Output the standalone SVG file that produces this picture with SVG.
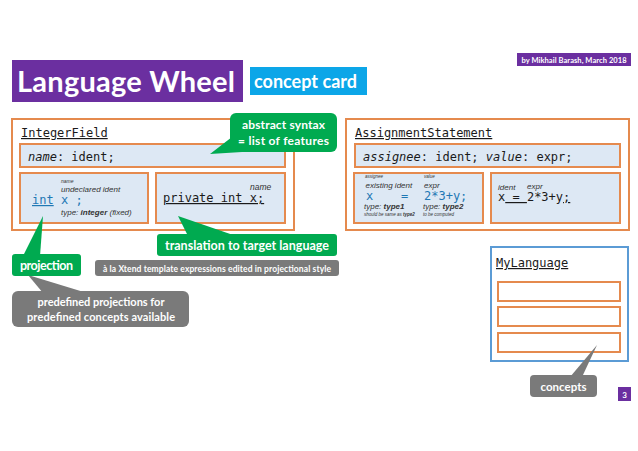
<svg xmlns="http://www.w3.org/2000/svg" width="638" height="451" viewBox="0 0 638 451">
<style>
.o{fill:#fff;stroke:#e58a4e;stroke-width:2}
.c{fill:#dde8f4;stroke:#e58a4e;stroke-width:2}
.b{font-family:"Lato","Liberation Sans",sans-serif;font-weight:700;fill:#fff;text-anchor:middle}
.g{fill:#00aa50}
.y{fill:#7a7a7a}
.m{font-family:"DejaVu Sans Mono",monospace;fill:#1a1a1a;font-size:12px}
.a{font-family:"Liberation Sans",sans-serif;font-style:italic;fill:#333}
.u{text-decoration:underline}
.l{fill:#1f78b4}
</style>
<rect width="638" height="451" fill="#fff"/>
<g id="title"><rect x="12" y="60" width="231" height="42" fill="#6b2fa0"/><text x="126" y="92" class="b" font-size="29" textLength="218" lengthAdjust="spacing">Language Wheel</text></g>
<g id="concept-card"><rect x="250" y="67" width="117" height="28" fill="#0ca6e8"/><text x="305.500" y="87.500" class="b" font-size="18" textLength="103" lengthAdjust="spacing">concept card</text></g>
<g id="author"><rect x="517" y="53" width="114" height="13" fill="#6b2fa0"/><text x="574" y="62.700" class="b" font-size="7.500" textLength="105" lengthAdjust="spacing">by Mikhail Barash, March 2018</text></g>

<g id="integer-field">
<rect class="o" x="12" y="119" width="282" height="111"/>
<text class="m u" x="21" y="137">IntegerField</text>
<rect class="c" x="20" y="144" width="265" height="23"/>
<text class="m" x="28" y="160.500"><tspan font-style="italic">name</tspan>: ident;</text>
<rect class="c" x="20" y="173" width="128" height="50"/>
<text class="a" x="61" y="183" font-size="5">name</text>
<text class="a" x="61" y="192" font-size="8">undeclared ident</text>
<text class="m l u" x="32" y="204">int</text>
<text class="m l" x="61" y="204">x ;</text>
<text class="a" x="61" y="215" font-size="8">type: <tspan font-weight="700">integer</tspan> (fixed)</text>
<rect class="c" x="156" y="173" width="129" height="50"/>
<text class="a" x="250" y="190" font-size="8.500">name</text>
<text class="m u" x="163" y="202">private int x;</text>
</g>

<g id="assignment-statement">
<rect class="o" x="346" y="119" width="283" height="111"/>
<text class="m u" x="355" y="137">AssignmentStatement</text>
<rect class="c" x="355" y="144" width="265" height="23"/>
<text class="m" x="363" y="160.500"><tspan font-style="italic">assignee</tspan>: ident; <tspan font-style="italic">value</tspan>: expr;</text>
<rect class="c" x="354" y="173" width="129" height="50"/>
<text class="a" x="365" y="178" font-size="4.500">assignee</text>
<text class="a" x="424" y="178" font-size="4.500">value</text>
<text class="a" x="365.500" y="188" font-size="8">existing ident</text>
<text class="a" x="424" y="188" font-size="8">expr</text>
<text class="m l" x="366" y="200">x</text>
<text class="m l" x="401" y="200">=</text>
<text class="m l" x="424" y="200">2*3+y;</text>
<text class="a" x="364" y="209" font-size="8">type: <tspan font-weight="700">type1</tspan></text>
<text class="a" x="423" y="209" font-size="8">type: <tspan font-weight="700">type2</tspan></text>
<text class="a" x="364" y="216" font-size="4.500">should be same as <tspan font-weight="700">type2</tspan></text>
<text class="a" x="423" y="216" font-size="4.500">to be computed</text>
<rect class="c" x="491" y="173" width="129" height="50"/>
<text class="a" x="498" y="190" font-size="8">ident</text>
<text class="a" x="527" y="189" font-size="8">expr</text>
<text class="m" x="498" y="201">x<tspan class="u"> = </tspan>2*3+y<tspan class="u">;</tspan></text>
</g>

<g id="my-language">
<rect x="491" y="247" width="137" height="114" fill="#fff" stroke="#5b9bd5" stroke-width="2"/>
<text class="m u" x="496" y="267">MyLanguage</text>
<rect class="o" x="498" y="282" width="122" height="19"/>
<rect class="o" x="498" y="307" width="122" height="19"/>
<rect class="o" x="498" y="333" width="122" height="19"/>
</g>

<g id="connectors">
<polygon class="g" points="210,154 232,137 242,152"/>
<polygon class="g" points="178,216 188,236 236,236"/>
<polygon class="g" points="43,216 23,256 40,256"/>
<polygon class="y" points="28,275 43,293 87,293"/>
<polygon class="y" points="597,345 570,377 582,377"/>
</g>

<g id="abstract-syntax"><rect class="g" x="230" y="113" width="107" height="39" rx="6"/><text class="b" x="283.500" y="129" font-size="12" textLength="83" lengthAdjust="spacing">abstract syntax</text><text class="b" x="283.500" y="145" font-size="12" textLength="91" lengthAdjust="spacing">= list of features</text></g>
<g id="translation"><rect class="g" x="157" y="234" width="180" height="22" rx="3"/><text class="b" x="247" y="250" font-size="12.500" textLength="164" lengthAdjust="spacing">translation to target language</text></g>
<g id="projection"><rect class="g" x="12" y="254" width="69" height="22" rx="3"/><text class="b" x="46.500" y="270" font-size="12.500" textLength="53" lengthAdjust="spacing">projection</text></g>
<g id="xtend-note"><rect class="y" x="95" y="260" width="244" height="16" rx="3"/><text class="b" x="217" y="271.500" font-size="8.500" textLength="228" lengthAdjust="spacing">à la Xtend template expressions edited in projectional style</text></g>
<g id="predefined"><rect class="y" x="12" y="291" width="177" height="36" rx="6"/><text class="b" x="101" y="306" font-size="11" textLength="127" lengthAdjust="spacing">predefined projections for</text><text class="b" x="101" y="321" font-size="11" textLength="148" lengthAdjust="spacing">predefined concepts available</text></g>
<g id="concepts"><rect class="y" x="530" y="375" width="67" height="22" rx="4"/><text class="b" x="563.500" y="391" font-size="11.500" textLength="46" lengthAdjust="spacing">concepts</text></g>
<g id="page-number"><rect x="618" y="387" width="13" height="14" fill="#6b2fa0"/><text class="b" x="624.500" y="397.500" font-size="8">3</text></g>
</svg>
